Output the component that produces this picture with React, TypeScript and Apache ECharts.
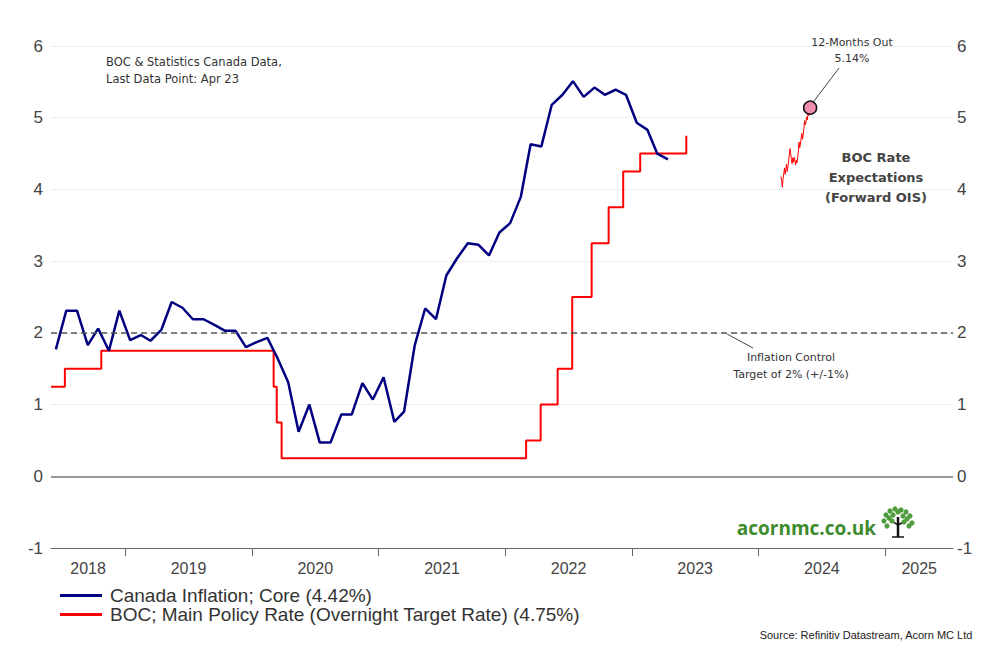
import React, { useEffect, useRef } from "react";
import * as echarts from "echarts";

// ---------- DATA ----------
const coreStartYear = 2018;
const coreStartMonth = 6; // June 2018, monthly to Apr 2023
const coreValues = [
  1.77, 2.31, 2.31, 1.83, 2.06, 1.75, 2.31, 1.9, 1.97, 1.89, 2.04, 2.43,
  2.35, 2.19, 2.19, 2.11, 2.03, 2.03, 1.8, 1.87, 1.93, 1.65, 1.31, 0.62,
  1.0, 0.47, 0.47, 0.86, 0.86, 1.3, 1.07, 1.38, 0.76, 0.9, 1.83, 2.34,
  2.19, 2.8, 3.04, 3.25, 3.23, 3.08, 3.4, 3.53, 3.9, 4.63, 4.6, 5.18,
  5.32, 5.51, 5.29, 5.42, 5.32, 5.39, 5.32, 4.93, 4.83, 4.5, 4.42,
];

const rateDates = [
  "2018-06-01", "2018-07-11", "2018-10-24", "2020-03-04", "2020-03-13",
  "2020-03-27", "2022-03-02", "2022-04-13", "2022-06-01", "2022-07-13",
  "2022-09-07", "2022-10-26", "2022-12-07", "2023-01-25", "2023-06-07",
  "2023-06-08",
];
const rateValues = [
  1.25, 1.5, 1.75, 1.25, 0.75, 0.25, 0.5, 1.0, 1.5, 2.5, 3.25, 3.75, 4.25,
  4.5, 4.75, 4.75,
];

const oisStart = "2024-03-06";
const oisStepDays = 2;
const oisValues = [
  4.18, 4.12, 4.03, 4.15, 4.22, 4.3, 4.21, 4.28, 4.35, 4.25, 4.32, 4.4,
  4.48, 4.57, 4.5, 4.42, 4.36, 4.44, 4.38, 4.45, 4.4, 4.34, 4.41, 4.37,
  4.44, 4.52, 4.66, 4.58, 4.63, 4.71, 4.78, 4.7, 4.76, 4.85, 4.96, 4.9,
  4.94, 5.01, 4.97, 5.06, 5.03, 5.1, 5.14,
];

const xMin = "2018-06-01";
const xMax = "2025-07-15";
const yearTicks = [2019, 2020, 2021, 2022, 2023, 2024, 2025];
const yearLabels = [2018, 2019, 2020, 2021, 2022, 2023, 2024, 2025];
const yMin = -1;
const yMax = 6;

const coreName = "Canada Inflation; Core (4.42%)";
const rateName = "BOC; Main Policy Rate (Overnight Target Rate) (4.75%)";

// ---------- helpers ----------
const DAY = 86400000;
const ts = (s: string) => Date.parse(s + "T00:00:00Z");
const pad = (n: number) => (n < 10 ? "0" + n : "" + n);
const coreDates = coreValues.map((_, i) => {
  const m0 = coreStartMonth - 1 + i;
  const y = coreStartYear + Math.floor(m0 / 12);
  const m = (m0 % 12) + 1;
  return ts(`${y}-${pad(m)}-15`);
});
const oisT0 = ts(oisStart);
const oisData = oisValues.map((v, i) => [oisT0 + i * oisStepDays * DAY, v]);
const minT = ts(xMin);
const maxT = ts(xMax);
const tickVals = yearTicks.map((y) => ts(`${y}-01-01`));
const labelVals = yearLabels.map((y) => {
  const a = Math.max(ts(`${y}-01-01`), minT);
  const b = Math.min(ts(`${y + 1}-01-01`), maxT);
  return (a + b) / 2;
});

const AXIS_FONT = "Liberation Sans, Arial, sans-serif";
const NOTE_FONT = "DejaVu Sans, Verdana, sans-serif";

export default function App() {
  const ref = useRef<HTMLDivElement>(null);
  useEffect(() => {
    if (!ref.current) return;
    const chart = echarts.init(ref.current, undefined, { renderer: "svg" });
    const leaves = [
      [-12, -8], [-8, -12], [-3, -14], [3, -13], [8, -11], [12, -7],
      [-14, -2], [-9, -5], [9, -4], [14, 0], [-11, 3], [11, 3],
      [-5, -8], [5, -7], [0, -11], [-6, -2], [6, -1],
    ];
    const option: any = {
      animation: false,
      backgroundColor: "#fff",
      grid: { left: 51, right: 36, top: 46, bottom: 103, containLabel: false },
      legend: {
        orient: "vertical",
        left: 55,
        top: 581,
        itemWidth: 42,
        itemHeight: 3,
        itemGap: 0,
        icon: "rect",
        data: [coreName, rateName],
        textStyle: {
          fontFamily: AXIS_FONT,
          fontSize: 19,
          color: "#333",
          lineHeight: 19,
          padding: [0, 0, 0, 3],
        },
      },
      xAxis: {
        type: "value",
        min: minT,
        max: maxT,
        axisLine: { show: true, onZero: false, lineStyle: { color: "#666", width: 1 } },
        axisTick: {
          show: true,
          length: 8,
          customValues: tickVals,
          lineStyle: { color: "#666" },
        },
        axisLabel: {
          customValues: labelVals,
          formatter: (v: number) => String(new Date(v).getUTCFullYear()),
          fontFamily: AXIS_FONT,
          fontSize: 16,
          color: "#444",
          margin: 12,
          showMinLabel: true,
          showMaxLabel: true,
        },
        splitLine: { show: false },
      },
      yAxis: [
        {
          type: "value",
          min: yMin,
          max: yMax,
          interval: 1,
          position: "left",
          axisLine: { show: false },
          axisTick: { show: false },
          axisLabel: { fontFamily: AXIS_FONT, fontSize: 17, color: "#444", margin: 8 },
          splitLine: { show: true, lineStyle: { color: "#ddd", type: "dotted", width: 1 } },
        },
        {
          type: "value",
          min: yMin,
          max: yMax,
          interval: 1,
          position: "right",
          axisLine: { show: false },
          axisTick: { show: false },
          axisLabel: { fontFamily: AXIS_FONT, fontSize: 17, color: "#444", margin: 4 },
          splitLine: { show: false },
        },
      ],
      series: [
        {
          name: rateName,
          type: "line",
          step: "end",
          showSymbol: false,
          symbol: "none",
          data: rateDates.map((d, i) => [ts(d), rateValues[i]]),
          lineStyle: { color: "#ff0000", width: 2 },
          itemStyle: { color: "#ff0000" },
          z: 3,
        },
        {
          name: coreName,
          type: "line",
          showSymbol: false,
          symbol: "none",
          data: coreDates.map((d, i) => [d, coreValues[i]]),
          lineStyle: { color: "#000080", width: 2.5 },
          itemStyle: { color: "#000080" },
          z: 4,
          markLine: {
            silent: true,
            symbol: "none",
            label: { show: false },
            data: [
              { yAxis: 0, lineStyle: { color: "#777", width: 1.5, type: "solid" } },
              { yAxis: 2, lineStyle: { color: "#555", width: 1.5, type: [6, 4] } },
            ],
          },
        },
        {
          name: "BOC Rate Expectations (Forward OIS)",
          type: "line",
          showSymbol: false,
          symbol: "none",
          data: oisData,
          lineStyle: { color: "#ff0000", width: 1 },
          itemStyle: { color: "#ff0000" },
          z: 3,
          markPoint: {
            symbol: "circle",
            symbolSize: 13,
            label: { show: false },
            itemStyle: { color: "#f08cb0", borderColor: "#111", borderWidth: 1.5 },
            data: [{ coord: oisData[oisData.length - 1] }],
          },
        },
      ],
      graphic: [
        {
          type: "text",
          left: 106,
          top: 53,
          style: {
            text: "BOC & Statistics Canada Data,\nLast Data Point: Apr 23",
            fontFamily: NOTE_FONT,
            fontSize: 11.5,
            lineHeight: 17,
            fill: "#333",
          },
        },
        {
          type: "text",
          x: 852,
          y: 50,
          style: {
            text: "12-Months Out\n5.14%",
            fontFamily: NOTE_FONT,
            fontSize: 11,
            lineHeight: 16,
            fill: "#333",
            textAlign: "center",
            textVerticalAlign: "middle",
          },
        },
        {
          type: "line",
          shape: { x1: 811, y1: 105, x2: 839, y2: 68 },
          style: { stroke: "#444", lineWidth: 1 },
        },
        {
          type: "text",
          x: 876,
          y: 177,
          style: {
            text: "BOC Rate\nExpectations\n(Forward OIS)",
            fontFamily: NOTE_FONT,
            fontSize: 13,
            fontWeight: "bold",
            lineHeight: 20,
            fill: "#444",
            textAlign: "center",
            textVerticalAlign: "middle",
          },
        },
        {
          type: "line",
          shape: { x1: 727, y1: 334, x2: 753, y2: 348 },
          style: { stroke: "#444", lineWidth: 1 },
        },
        {
          type: "text",
          x: 791,
          y: 366,
          style: {
            text: "Inflation Control\nTarget of 2% (+/-1%)",
            fontFamily: NOTE_FONT,
            fontSize: 11,
            lineHeight: 17,
            fill: "#333",
            textAlign: "center",
            textVerticalAlign: "middle",
          },
        },
        {
          type: "text",
          x: 876,
          y: 528,
          style: {
            text: "acornmc.co.uk",
            fontFamily: "Open Sans, Lato, sans-serif",
            fontWeight: "bold",
            fontSize: 19,
            fill: "#3d8b2d",
            textAlign: "right",
            textVerticalAlign: "middle",
          },
        },
        {
          type: "group",
          x: 898,
          y: 523,
          children: [
            {
              type: "polyline",
              shape: { points: [[0, 14], [0, -6]] },
              style: { stroke: "#111", lineWidth: 2.5, fill: "none" },
            },
            {
              type: "polyline",
              shape: { points: [[-9, -4], [0, 2], [9, -3]] },
              style: { stroke: "#111", lineWidth: 1.5, fill: "none" },
            },
            {
              type: "polyline",
              shape: { points: [[-6, 14], [6, 14]] },
              style: { stroke: "#111", lineWidth: 1.5, fill: "none" },
            },
            ...leaves.map(([dx, dy]) => ({
              type: "circle",
              shape: { cx: dx, cy: dy, r: 2.6 },
              style: { fill: "#4f9c3c" },
            })),
          ],
        },
        {
          type: "text",
          right: 16,
          top: 629,
          style: {
            text: "Source: Refinitiv Datastream, Acorn MC Ltd",
            fontFamily: AXIS_FONT,
            fontSize: 11,
            fill: "#222",
          },
        },
      ],
    };
    chart.setOption(option);
    return () => chart.dispose();
  }, []);
  return (
    <div
      ref={ref}
      style={{ position: "fixed", left: 0, top: 0, width: 989, height: 651, background: "#fff" }}
    />
  );
}
